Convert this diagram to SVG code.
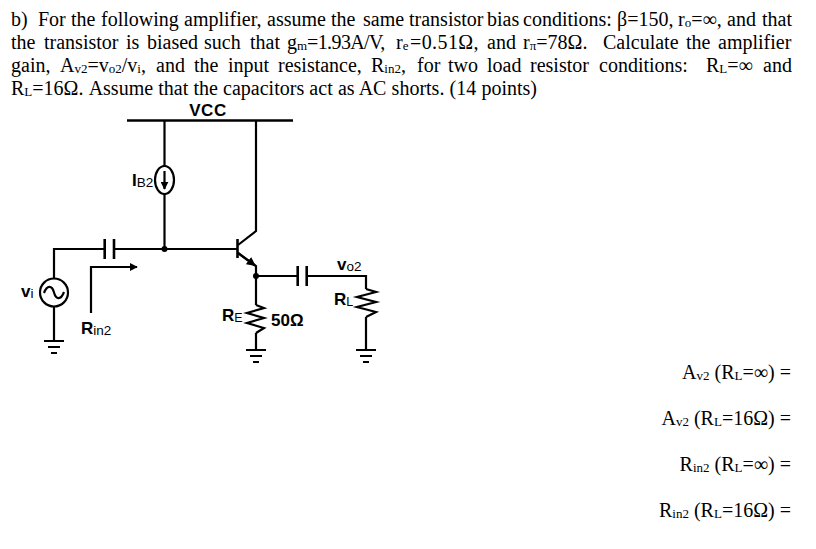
<svg xmlns="http://www.w3.org/2000/svg" width="816" height="549" viewBox="0 0 816 549">
<style>
.t{font-family:"Liberation Serif","Times New Roman",serif;font-size:20px;fill:#000}
.s{font-size:13px}
.l{font-family:"Liberation Sans",Arial,sans-serif;font-size:17px;font-weight:bold;fill:#000}
.ls{font-size:13.5px;font-weight:normal}
.n{font-size:12.5px;font-weight:normal}
.w{fill:none;stroke:#000;stroke-width:2.2}
.p{fill:none;stroke:#000;stroke-width:2.6}
.g{fill:none;stroke:#000;stroke-width:2}
</style>
<defs>
<marker id="ah" viewBox="0 0 10 10" refX="9" refY="5" markerWidth="8" markerHeight="8" markerUnits="userSpaceOnUse" orient="auto"><path d="M0 0L10 5L0 10Z" fill="#000"/></marker>
<marker id="ae" viewBox="0 0 10 10" refX="9" refY="5" markerWidth="9" markerHeight="9" markerUnits="userSpaceOnUse" orient="auto"><path d="M0 0L10 5L0 10Z" fill="#000"/></marker>
<g id="gnd"><path class="g" d="M-10 0H10M-6 6H6M-3 12H3"/></g>
</defs>
<g id="question">
<text class="t" y="26"><tspan x="11">b)</tspan><tspan x="38">For</tspan><tspan x="71">the</tspan><tspan x="101">following</tspan><tspan x="184">amplifier,</tspan><tspan x="267">assume</tspan><tspan x="331">the</tspan><tspan x="363">same</tspan><tspan x="409">transistor</tspan><tspan x="487">bias</tspan><tspan x="523">conditions:</tspan><tspan x="617">β=150,</tspan><tspan x="678">r</tspan><tspan class="s" dy="1">o</tspan><tspan dy="-1">=∞,</tspan><tspan x="727">and</tspan><tspan x="762">that</tspan></text>
<text class="t" y="49"><tspan x="11">the</tspan><tspan x="44">transistor</tspan><tspan x="126">is</tspan><tspan x="147">biased</tspan><tspan x="204">such</tspan><tspan x="250">that</tspan><tspan x="287">g</tspan><tspan class="s" dy="1">m</tspan><tspan dy="-1" x="307" letter-spacing="-0.6">=1.93A/V,</tspan><tspan x="396">r</tspan><tspan class="s" dy="1">e</tspan><tspan dy="-1" x="410" letter-spacing="0.4">=0.51Ω,</tspan><tspan x="487">and</tspan><tspan x="523">r</tspan><tspan class="s" dy="1">π</tspan><tspan dy="-1">=78Ω.</tspan><tspan x="603">Calculate</tspan><tspan x="686">the</tspan><tspan x="718">amplifier</tspan></text>
<text class="t" y="72"><tspan x="11">gain,</tspan><tspan x="60">A</tspan><tspan class="s" dy="1">v2</tspan><tspan dy="-1">=v</tspan><tspan class="s" dy="1">o2</tspan><tspan dy="-1">/v</tspan><tspan class="s" dy="1">i</tspan><tspan dy="-1">,</tspan><tspan x="156">and</tspan><tspan x="194">the</tspan><tspan x="228">input</tspan><tspan x="278">resistance,</tspan><tspan x="371">R</tspan><tspan class="s" dy="1">in2</tspan><tspan dy="-1">,</tspan><tspan x="417">for</tspan><tspan x="448">two</tspan><tspan x="487">load</tspan><tspan x="530">resistor</tspan><tspan x="599">conditions:</tspan><tspan x="706">R</tspan><tspan class="s" dy="1">L</tspan><tspan dy="-1">=∞</tspan><tspan x="763">and</tspan></text>
<text class="t" y="95" word-spacing="0.2"><tspan x="11">R</tspan><tspan class="s" dy="1">L</tspan><tspan dy="-1">=16Ω. Assume that the capacitors act as AC shorts. (14 points)</tspan></text>
</g>
<g id="connectors">
<path class="p" d="M127 120.500H293"/>
<path class="w" d="M164.500 121V166M164.500 194V249M54 278V249H104.500M114 249H237M256 121V231L238 245M238 253L256 266V305M256 333V349M256 276H297.500M306.500 276H366V289M366 317V349M54 307V341"/>
<path class="w" marker-end="url(#ah)" d="M91 313V267H137"/>
<path class="w" marker-end="url(#ae)" d="M238 253L255 265.500"/>
<circle cx="164.500" cy="249" r="3"/><circle cx="256" cy="276" r="3"/>
</g>
<g id="vcc"><text class="l" x="208" y="116" text-anchor="middle" letter-spacing="0.6">VCC</text></g>
<g id="ib2"><ellipse class="w" cx="164.500" cy="180" rx="9.500" ry="14" fill="#fff"/><path class="w" marker-end="url(#ah)" d="M164.500 171V189"/><text class="l" x="132" y="186">I<tspan class="ls" dy="1">B2</tspan></text></g>
<g id="c1"><path class="p" d="M104.700 239V259M114 239V259"/></g>
<g id="c2"><path class="p" d="M297.700 266V286M306.700 266V286"/></g>
<g id="q1"><path class="p" d="M237.500 239V258"/></g>
<g id="vi"><circle class="w" cx="54" cy="292.500" r="14"/><path class="w" d="M44 293C47 285 52 285 54 292.500S61 300 64 292"/><text class="l" x="21" y="297">v<tspan class="ls" dy="1">i</tspan></text><use href="#gnd" x="54" y="341"/></g>
<g id="rin"><text class="l" x="81" y="334">R<tspan class="ls" dy="1">in2</tspan></text></g>
<g id="re"><path class="w" d="M256 305L264 308L247 313L264 318L247 323L264 328L256 333"/><text class="l" x="222" y="321">R<tspan class="n" dy="1">E</tspan></text><text class="l" x="271" y="326">50Ω</text><use href="#gnd" x="256" y="350"/></g>
<g id="rl"><path class="w" d="M366 289L376 292L357 297L376 302L357 307L376 312L366 317"/><text class="l" x="334" y="305">R<tspan class="n" dy="1">L</tspan></text><use href="#gnd" x="366" y="350"/></g>
<g id="vo2"><text class="l" x="337" y="270">v<tspan class="ls" dy="1">o2</tspan></text></g>
<g id="answers">
<text class="t" x="791" y="379" text-anchor="end">A<tspan class="s" dy="1">v2</tspan><tspan dy="-1"> (R</tspan><tspan class="s" dy="1">L</tspan><tspan dy="-1">=∞) =</tspan></text>
<text class="t" x="791" y="425" text-anchor="end">A<tspan class="s" dy="1">v2</tspan><tspan dy="-1"> (R</tspan><tspan class="s" dy="1">L</tspan><tspan dy="-1">=16Ω) =</tspan></text>
<text class="t" x="791" y="471" text-anchor="end">R<tspan class="s" dy="1">in2</tspan><tspan dy="-1"> (R</tspan><tspan class="s" dy="1">L</tspan><tspan dy="-1">=∞) =</tspan></text>
<text class="t" x="791" y="517" text-anchor="end">R<tspan class="s" dy="1">in2</tspan><tspan dy="-1"> (R</tspan><tspan class="s" dy="1">L</tspan><tspan dy="-1">=16Ω) =</tspan></text>
</g>
</svg>
